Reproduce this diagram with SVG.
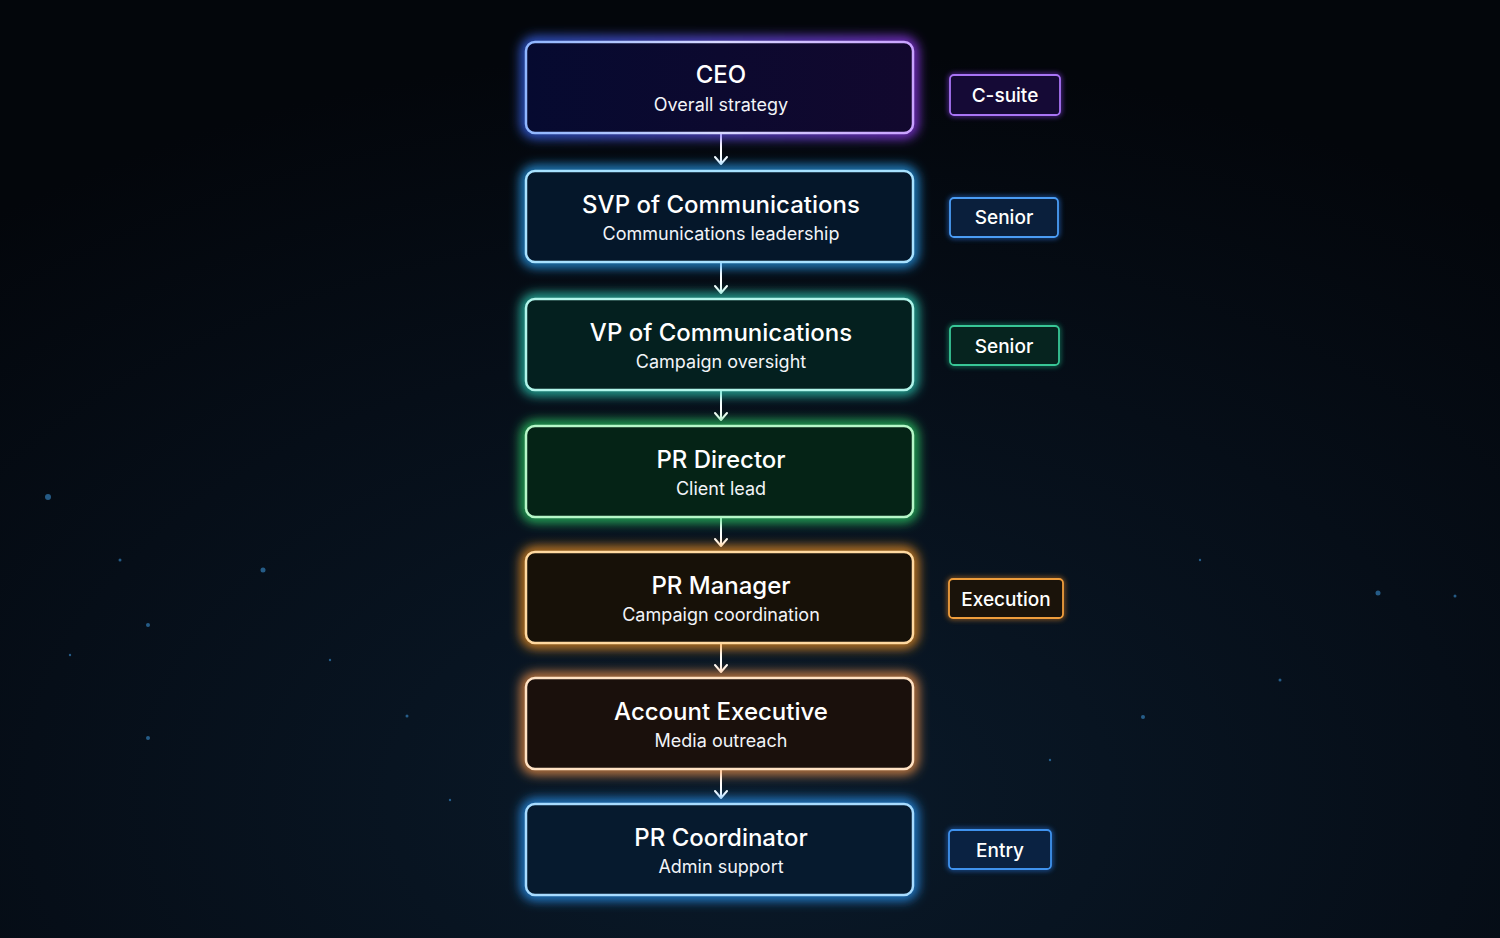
<svg xmlns="http://www.w3.org/2000/svg" width="1500" height="938" viewBox="0 0 1500 938">
<defs>
  <radialGradient id="bg" cx="50%" cy="85%" r="80%">
    <stop offset="0" stop-color="#0a1a2a"/>
    <stop offset="0.6" stop-color="#060e18"/>
    <stop offset="1" stop-color="#03060b"/>
  </radialGradient>
  <linearGradient id="gCeo" x1="0" y1="0" x2="1" y2="0">
    <stop offset="0" stop-color="#8fb6ff"/>
    <stop offset="0.5" stop-color="#d6d8ff"/>
    <stop offset="1" stop-color="#c9a2ff"/>
  </linearGradient>
  <linearGradient id="hCeo" x1="0" y1="0" x2="1" y2="0">
    <stop offset="0" stop-color="#3a6cff"/>
    <stop offset="1" stop-color="#9a3dff"/>
  </linearGradient>
  <linearGradient id="fCeo" x1="0" y1="0" x2="1" y2="0">
    <stop offset="0" stop-color="#060a30"/>
    <stop offset="1" stop-color="#12082e"/>
  </linearGradient>
  <filter id="blur" x="-20%" y="-40%" width="140%" height="180%">
    <feGaussianBlur stdDeviation="6"/>
  </filter>
  <filter id="blurS" x="-20%" y="-40%" width="140%" height="180%">
    <feGaussianBlur stdDeviation="2.5"/>
  </filter>
  <marker id="arr" markerWidth="14" markerHeight="14" refX="11" refY="7" orient="auto" markerUnits="userSpaceOnUse">
    <path d="M4,1 L11,7 L4,13" fill="none" stroke="#ffffff" stroke-width="2" stroke-linecap="round" stroke-linejoin="round"/>
  </marker>
</defs>
<style>
  .halo { fill: none; stroke-width: 9; opacity: 1; }
  .box { stroke-width: 2.5; }
  .title { font-family: Inter, "Liberation Sans", sans-serif; font-size: 24px; font-weight: 500; fill: #ffffff; text-anchor: middle; }
  .sub { font-family: Inter, "Liberation Sans", sans-serif; font-size: 18px; font-weight: 400; fill: #f2f4f8; text-anchor: middle; }
  .bhalo { fill: none; stroke-width: 4; opacity: 0.6; }
  .badge { stroke-width: 1.8; }
  .btxt { font-family: Inter, "Liberation Sans", sans-serif; font-size: 19px; font-weight: 500; fill: #ffffff; text-anchor: middle; }
  .conn { stroke: #ffffff; stroke-width: 2; fill: none; }
</style>
<rect width="1500" height="938" fill="url(#bg)"/>
<g fill="#3a8fd0" opacity="0.6">
  <circle cx="48" cy="497" r="3"/><circle cx="263" cy="570" r="2.5"/><circle cx="148" cy="625" r="2"/>
  <circle cx="148" cy="738" r="2"/><circle cx="407" cy="716" r="1.5"/><circle cx="1378" cy="593" r="2.5"/>
  <circle cx="1143" cy="717" r="2"/><circle cx="1280" cy="680" r="1.5"/><circle cx="1455" cy="596" r="1.5"/>
  <circle cx="120" cy="560" r="1.5"/><circle cx="1200" cy="560" r="1.2"/><circle cx="330" cy="660" r="1.2"/>
  <circle cx="1050" cy="760" r="1.2"/><circle cx="450" cy="800" r="1.2"/><circle cx="70" cy="655" r="1.2"/>
</g>

<g id="connectors">
  <line class="conn" x1="721" y1="134" x2="721" y2="164" marker-end="url(#arr)"/>
  <line class="conn" x1="721" y1="263" x2="721" y2="293" marker-end="url(#arr)"/>
  <line class="conn" x1="721" y1="391" x2="721" y2="420" marker-end="url(#arr)"/>
  <line class="conn" x1="721" y1="518" x2="721" y2="546" marker-end="url(#arr)"/>
  <line class="conn" x1="721" y1="644" x2="721" y2="672" marker-end="url(#arr)"/>
  <line class="conn" x1="721" y1="770" x2="721" y2="798" marker-end="url(#arr)"/>
</g>

<g id="node-ceo">
  <rect class="halo" x="526" y="42" width="387" height="91" rx="9" stroke="url(#hCeo)" filter="url(#blur)"/>
  <rect class="box" x="526" y="42" width="387" height="91" rx="9" fill="url(#fCeo)" stroke="url(#gCeo)"/>
  <text class="title" x="721" y="83">CEO</text>
  <text class="sub" x="721" y="111">Overall strategy</text>
</g>
<g id="node-svp">
  <rect class="halo" x="526" y="171" width="387" height="91" rx="9" stroke="#2aa8ff" filter="url(#blur)"/>
  <rect class="box" x="526" y="171" width="387" height="91" rx="9" fill="#05172a" stroke="#a8e2ff"/>
  <text class="title" x="721" y="213">SVP of Communications</text>
  <text class="sub" x="721" y="240">Communications leadership</text>
</g>
<g id="node-vp">
  <rect class="halo" x="526" y="299" width="387" height="91" rx="9" stroke="#2fd6bd" filter="url(#blur)"/>
  <rect class="box" x="526" y="299" width="387" height="91" rx="9" fill="#04201f" stroke="#b0f5ea"/>
  <text class="title" x="721" y="341">VP of Communications</text>
  <text class="sub" x="721" y="368">Campaign oversight</text>
</g>
<g id="node-director">
  <rect class="halo" x="526" y="426" width="387" height="91" rx="9" stroke="#2fd86b" filter="url(#blur)"/>
  <rect class="box" x="526" y="426" width="387" height="91" rx="9" fill="#052316" stroke="#b6f7c8"/>
  <text class="title" x="721" y="468">PR Director</text>
  <text class="sub" x="721" y="495">Client lead</text>
</g>
<g id="node-manager">
  <rect class="halo" x="526" y="552" width="387" height="91" rx="9" stroke="#ff9a20" filter="url(#blur)"/>
  <rect class="box" x="526" y="552" width="387" height="91" rx="9" fill="#171108" stroke="#ffd9a0"/>
  <text class="title" x="721" y="594">PR Manager</text>
  <text class="sub" x="721" y="621">Campaign coordination</text>
</g>
<g id="node-ae">
  <rect class="halo" x="526" y="678" width="387" height="91" rx="9" stroke="#ff9a4a" filter="url(#blur)"/>
  <rect class="box" x="526" y="678" width="387" height="91" rx="9" fill="#1a100c" stroke="#ffe2c4"/>
  <text class="title" x="721" y="720">Account Executive</text>
  <text class="sub" x="721" y="747">Media outreach</text>
</g>
<g id="node-coordinator">
  <rect class="halo" x="526" y="804" width="387" height="91" rx="9" stroke="#2a9cff" filter="url(#blur)"/>
  <rect class="box" x="526" y="804" width="387" height="91" rx="9" fill="#061a2e" stroke="#a8dcff"/>
  <text class="title" x="721" y="846">PR Coordinator</text>
  <text class="sub" x="721" y="873">Admin support</text>
</g>

<g id="badge-csuite">
  <rect class="bhalo" x="950" y="75" width="110" height="40" rx="4" stroke="#8a3cf0" filter="url(#blurS)"/>
  <rect class="badge" x="950" y="75" width="110" height="40" rx="4" fill="#150a36" stroke="#a874f5"/>
  <text class="btxt" x="1005" y="102">C-suite</text>
</g>
<g id="badge-senior1">
  <rect class="bhalo" x="950" y="198" width="108" height="39" rx="4" stroke="#2a7ef0" filter="url(#blurS)"/>
  <rect class="badge" x="950" y="198" width="108" height="39" rx="4" fill="#0a1f3c" stroke="#4a9cf5"/>
  <text class="btxt" x="1004" y="224">Senior</text>
</g>
<g id="badge-senior2">
  <rect class="bhalo" x="950" y="326" width="109" height="39" rx="4" stroke="#1fae80" filter="url(#blurS)"/>
  <rect class="badge" x="950" y="326" width="109" height="39" rx="4" fill="#06241f" stroke="#38c696"/>
  <text class="btxt" x="1004" y="353">Senior</text>
</g>
<g id="badge-execution">
  <rect class="bhalo" x="949" y="579" width="114" height="39" rx="4" stroke="#e08420" filter="url(#blurS)"/>
  <rect class="badge" x="949" y="579" width="114" height="39" rx="4" fill="#1a130a" stroke="#ef9d3c"/>
  <text class="btxt" x="1006" y="606">Execution</text>
</g>
<g id="badge-entry">
  <rect class="bhalo" x="949" y="830" width="102" height="39" rx="4" stroke="#2a7ef0" filter="url(#blurS)"/>
  <rect class="badge" x="949" y="830" width="102" height="39" rx="4" fill="#0a2242" stroke="#3f92ee"/>
  <text class="btxt" x="1000" y="857">Entry</text>
</g>
</svg>
